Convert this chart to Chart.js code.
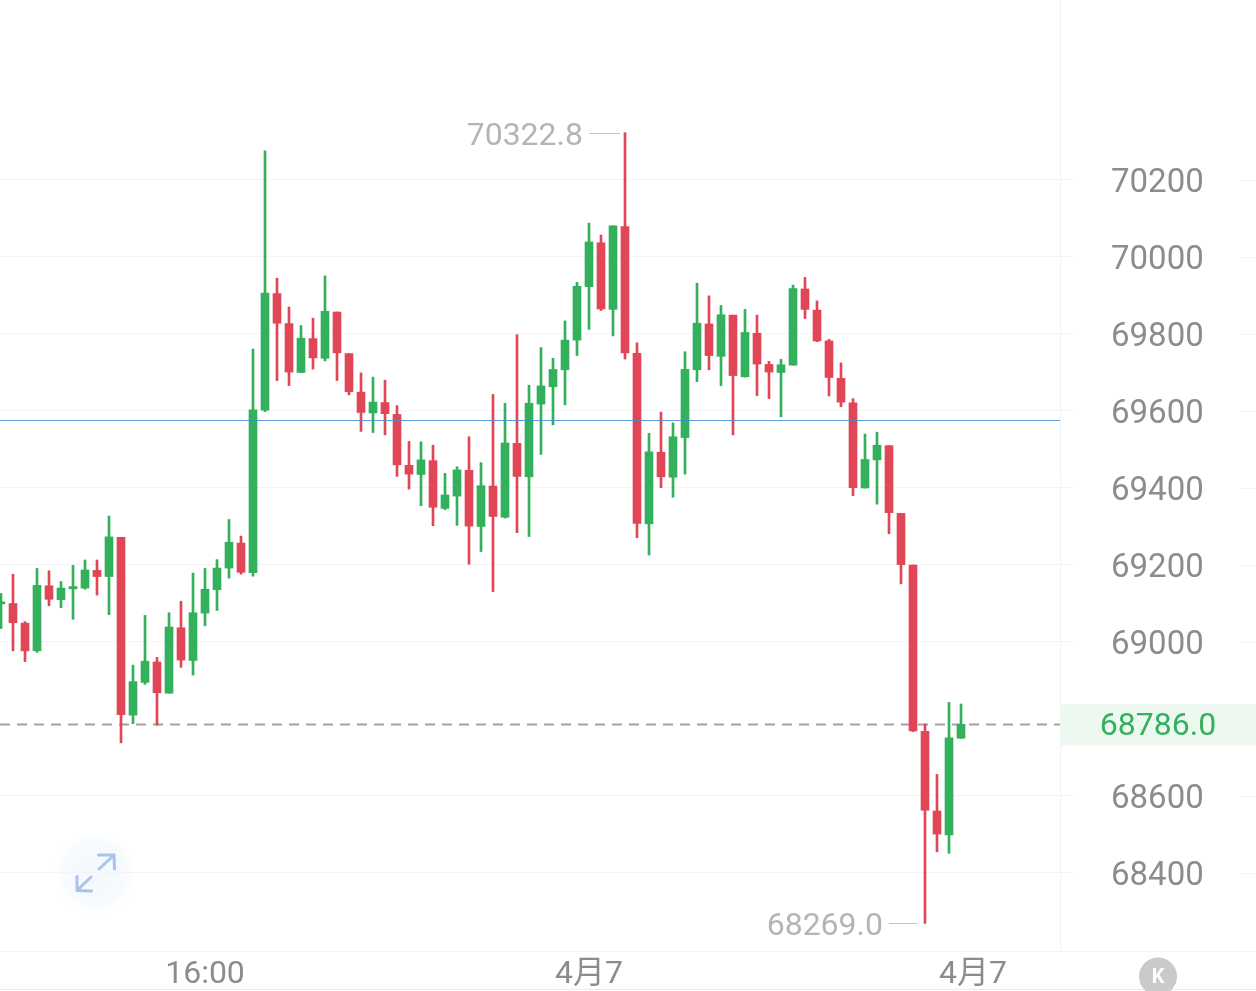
<!DOCTYPE html>
<html>
<head>
<meta charset="utf-8">
<style>
  html, body { margin: 0; padding: 0; background: #fff; overflow: hidden; }
  canvas { display: block; }
</style>
<script src="https://cdn.jsdelivr.net/npm/chart.js@4/dist/chart.umd.min.js"></script>
</head>
<body>
<canvas id="chart" width="1256" height="991"></canvas>
<script>
var opens = [69099,69100,69049,68977,69146,69110,69138,69140,69186,69170,
  69272,68810,68895,68948,68867,69037,68952,69075,69136,69192,
  69257,69180,69602,69905,69827,69700,69788,69737,69857,69749,
  69649,69595,69622,69591,69459,69435,69471,69347,69379,69446,
  69300,69405,69324,69516,69429,69618,69663,69707,69784,69923,
  70037,69864,70079,69750,69307,69493,69428,69531,69707,69826,
  69742,69849,69689,69802,69721,69700,69719,69917,69862,69782,
  69685,69621,69400,69473,69510,69334,69200,68768,68561,68499,68750];
var closes = [69103,69050,68977,69147,69111,69140,69144,69187,69170,69273,
  68811,68897,68950,68868,69039,68953,69076,69137,69192,69259,
  69181,69603,69906,69828,69701,69789,69738,69859,69751,69650,
  69596,69623,69593,69460,69436,69473,69350,69382,69447,69301,
  69406,69326,69517,69430,69620,69665,69708,69784,69924,70039,
  69865,70081,69751,69308,69494,69429,69533,69708,69828,69744,
  69850,69692,69804,69722,69701,69720,69918,69864,69782,69687,
  69623,69401,69474,69511,69336,69201,68769,68563,68501,68751,68786];
var highs = [69126,69176,69053,69191,69185,69157,69199,69213,69213,69327,
  69272,68940,69069,68960,69076,69106,69179,69191,69214,69318,
  69275,69761,70276,69945,69870,69822,69841,69951,69857,69749,
  69699,69688,69680,69614,69521,69520,69511,69438,69455,69533,
  69466,69643,69620,69798,69667,69765,69737,69834,69934,70088,
  70057,70081,70322.8,69777,69542,69597,69569,69754,69932,69899,
  69874,69849,69864,69849,69729,69734,69927,69947,69886,69786,
  69725,69632,69540,69545,69510,69334,69200,68787,68656,68843,68839];
var lows = [69035,68977,68949,68973,69094,69089,69059,69137,69122,69071,
  68738,68788,68890,68784,68867,68934,68914,69042,69082,69166,
  69176,69171,69598,69679,69666,69700,69709,69730,69679,69642,
  69547,69544,69538,69430,69397,69354,69302,69344,69303,69202,
  69235,69131,69322,69284,69274,69487,69564,69616,69744,69812,
  69861,69795,69735,69271,69226,69401,69376,69436,69676,69707,
  69666,69538,69688,69640,69632,69585,69719,69840,69780,69639,
  69611,69380,69400,69358,69281,69151,68767,68269.0,68455,68451,68750];

var priceTicks = [68400,68600,68800,69000,69200,69400,69600,69800,70000,70200];
var shownTicks = [68400,68600,69000,69200,69400,69600,69800,70000,70200];
var timeTickIndex = [17,49,81];
var timeTickLabels = ["16:00","4月7","4月7"];

var lastPrice = 68786.0;
var refPrice = 69575.3;
var highIndex = 52, highPrice = 70322.8;
var lowIndex = 77, lowPrice = 68269.0;

var RED = "#e04656";
var GREEN = "#33b05c";
var FONT = "Roboto, 'Noto Sans CJK SC', sans-serif";

var candleColors = opens.map(function (o, i) { return closes[i] >= o ? GREEN : RED; });
var xMin = -1 / 12, xMax = 1059 / 12;
var yMin = 68197.4, yMax = 70667.5;

var extras = {
  id: "extras",
  beforeDraw: function (chart) {
    var c = chart.ctx;
    c.save();
    c.fillStyle = "#fff";
    c.fillRect(0, 0, chart.width, chart.height);
    var g = c.createRadialGradient(95, 873, 10, 95, 873, 42);
    g.addColorStop(0, "#f5f9fe");
    g.addColorStop(0.65, "#f7fafe");
    g.addColorStop(1, "rgba(250,252,255,0)");
    c.fillStyle = g;
    c.beginPath();
    c.arc(95, 873, 42, 0, Math.PI * 2);
    c.fill();
    c.restore();
  },
  afterDraw: function (chart) {
    var c = chart.ctx, x = chart.scales.x, y = chart.scales.y;
    c.save();

    // axis frame and the short grid ends on the far right
    c.strokeStyle = "#f3f3f3";
    c.lineWidth = 1;
    c.beginPath();
    c.moveTo(1060.5, 0); c.lineTo(1060.5, 951);
    c.moveTo(0, 951.5); c.lineTo(1256, 951.5);
    shownTicks.forEach(function (t) {
      var py = Math.round(y.getPixelForValue(t)) + 0.5;
      c.moveTo(1240, py); c.lineTo(1256, py);
    });
    c.stroke();
    c.strokeStyle = "#ececec";
    c.beginPath();
    c.moveTo(0, 989.5); c.lineTo(1256, 989.5);
    c.stroke();

    // current price tag
    var py = y.getPixelForValue(lastPrice);
    c.fillStyle = "#edf8f1";
    c.fillRect(1060, py - 20, 196, 41);
    c.fillStyle = GREEN;
    c.font = "32px " + FONT;
    c.textAlign = "center";
    c.textBaseline = "middle";
    c.fillText(lastPrice.toFixed(1), 1158, py + 3);

    // high / low labels
    c.fillStyle = "#b4b4b4";
    c.strokeStyle = "#c4c4c4";
    c.textAlign = "right";
    [[highIndex, highPrice, 5], [lowIndex, lowPrice, 7]].forEach(function (m) {
      var px = x.getPixelForValue(m[0]);
      var ly = y.getPixelForValue(m[1]);
      c.beginPath();
      c.moveTo(px - 36, Math.round(ly) + 0.5);
      c.lineTo(px - m[2], Math.round(ly) + 0.5);
      c.stroke();
      c.fillText(m[1].toFixed(1), px - 42, ly + 4);
    });

    // expand icon
    c.strokeStyle = "#a9c4ec";
    c.lineWidth = 3;
    c.lineCap = "round";
    c.lineJoin = "round";
    c.beginPath();
    c.moveTo(99, 869); c.lineTo(114, 855);
    c.moveTo(98.5, 855); c.lineTo(114, 855); c.lineTo(114.5, 869);
    c.moveTo(91, 877); c.lineTo(77, 890.5);
    c.moveTo(77, 876.5); c.lineTo(77, 890.5); c.lineTo(91.5, 891);
    c.stroke();

    // k button
    c.fillStyle = "#c9cacc";
    c.beginPath();
    c.arc(1158, 976.5, 19, 0, Math.PI * 2);
    c.fill();
    c.fillStyle = "#fff";
    c.font = "bold 20px " + FONT;
    c.textAlign = "center";
    c.fillText("K", 1158, 978);
    c.restore();
  }
};

new Chart(document.getElementById("chart"), {
  type: "bar",
  data: {
    datasets: [
      {
        type: "line",
        order: 3,
        data: [{ x: xMin, y: lastPrice }, { x: xMax, y: lastPrice }],
        borderColor: "#a2a2a2",
        borderWidth: 2,
        borderDash: [10, 7],
        pointRadius: 0
      },
      {
        order: 2,
        data: highs.map(function (h, i) { return { x: i, y: [lows[i], h] }; }),
        backgroundColor: candleColors,
        barThickness: 2
      },
      {
        order: 1,
        data: opens.map(function (o, i) { return { x: i, y: [o, closes[i]] }; }),
        backgroundColor: candleColors,
        barThickness: 8,
        minBarLength: 2
      },
      {
        type: "line",
        order: 0,
        data: [{ x: xMin, y: refPrice }, { x: xMax, y: refPrice }],
        borderColor: "rgba(62,140,210,0.85)",
        borderWidth: 1,
        pointRadius: 0
      }
    ]
  },
  options: {
    responsive: false,
    animation: false,
    events: [],
    layout: { padding: 0 },
    plugins: { legend: { display: false }, tooltip: { enabled: false } },
    scales: {
      x: {
        type: "linear",
        offset: false,
        min: xMin,
        max: xMax,
        grid: { display: false },
        border: { display: false },
        afterBuildTicks: function (s) {
          s.ticks = timeTickIndex.map(function (v) { return { value: v }; });
        },
        afterFit: function (s) {
          s.height = 40;
          s.paddingLeft = 0;
          s.paddingRight = 0;
        },
        ticks: {
          autoSkip: false,
          maxRotation: 0,
          padding: -3,
          color: "#8c8c8c",
          font: { family: FONT, size: 32 },
          callback: function (v) { return timeTickLabels[timeTickIndex.indexOf(v)]; }
        }
      },
      y: {
        position: "right",
        min: yMin,
        max: yMax,
        grid: { color: "#f4f4f4", lineWidth: function (ctx) { return shownTicks.indexOf(ctx.tick.value) < 0 ? 0 : 1; }, tickLength: 13 },
        border: { display: false },
        afterBuildTicks: function (s) {
          s.ticks = priceTicks.map(function (v) { return { value: v }; });
        },
        afterFit: function (s) {
          s.width = 196;
          s.paddingTop = 0;
          s.paddingBottom = 0;
        },
        ticks: {
          crossAlign: "center",
          padding: 38,
          labelOffset: 4,
          color: "#8c8c8c",
          font: { family: FONT, size: 33 },
          callback: function (v) { return shownTicks.indexOf(v) < 0 ? "" : String(v); }
        }
      }
    },
    datasets: { bar: { grouped: false } }
  },
  plugins: [extras]
});
</script>
</body>
</html>
